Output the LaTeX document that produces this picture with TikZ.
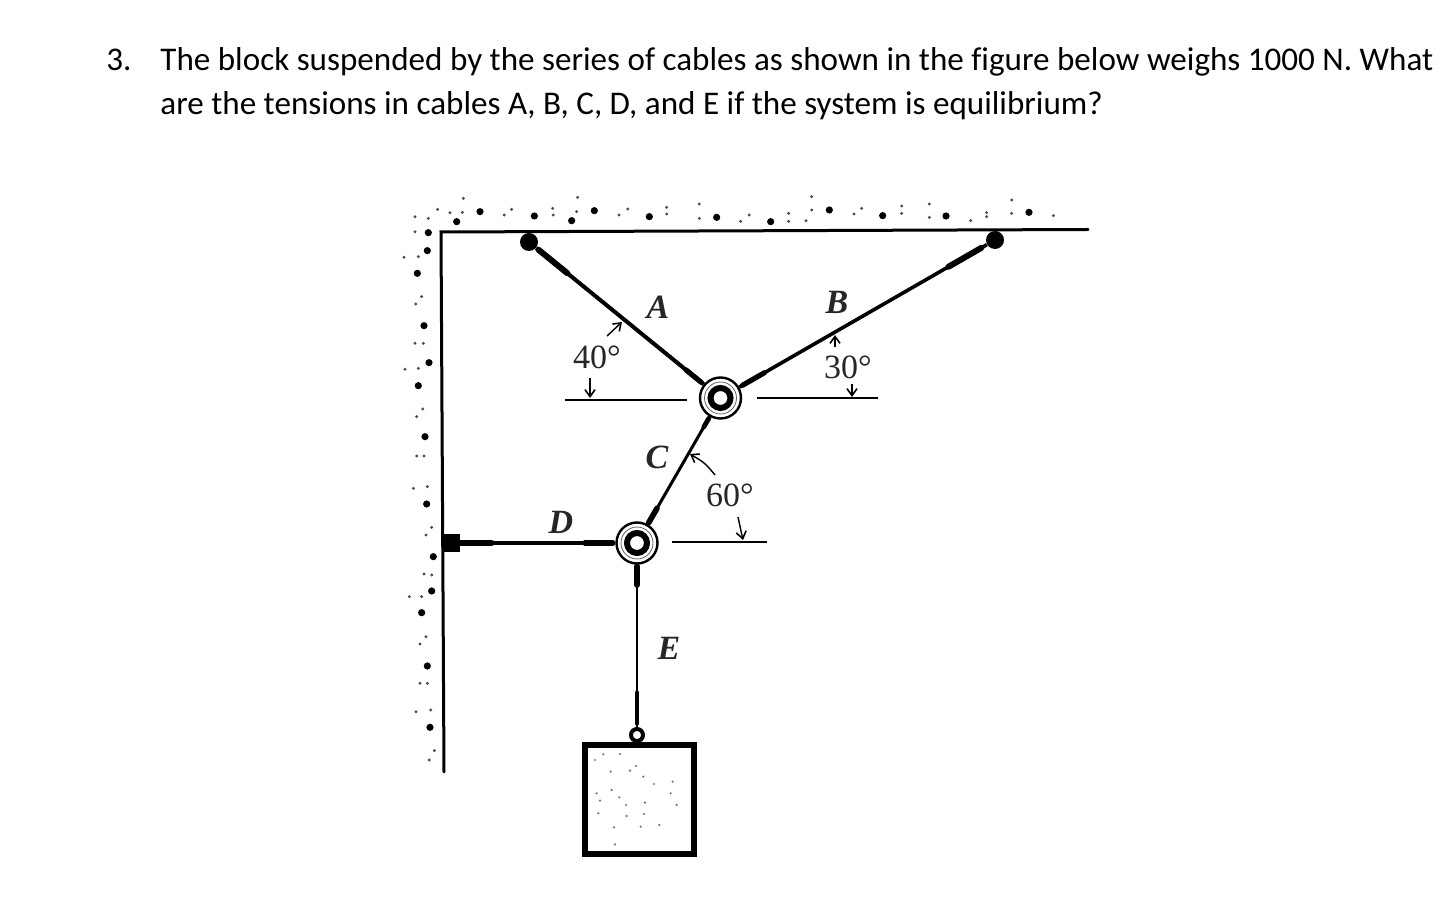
\documentclass[tikz,border=0pt]{standalone}
\usepackage{fontspec}
\setmainfont{Carlito}[Ligatures=NoCommon]
\newfontfamily\figfont{Liberation Serif}
\usetikzlibrary{calc,arrows.meta}
\tikzset{
  x=0.5pt,y=-0.5pt,
  question/.style={anchor=base west,inner sep=0pt,font=\fontsize{16.55}{18}\selectfont,text=black},
  cable/.style={line width=2pt,black},
  knot/.style={line width=3pt,black,line cap=round},
  wall/.style={line width=1.5pt,black},
  refline/.style={line width=0.9pt,black},
  pointer/.style={line width=0.7pt,black,-{Straight Barb[length=3.5pt,width=5pt,line width=0.8pt]}},
  cablelabel/.style={font=\figfont\bfseries\itshape\fontsize{17}{17}\selectfont,inner sep=0pt,text=black!85},
  anglelabel/.style={font=\figfont\fontsize{17}{17}\selectfont,inner sep=0pt,text=black!85},
  ringouter/.style={circle,draw=black,fill=white,line width=1.2pt,minimum size=20.5pt,inner sep=0pt},
  ringmid/.style={circle,draw=black!60,line width=0.4pt,minimum size=16pt,inner sep=0pt},
  ringinner/.style={circle,draw=black,line width=3pt,minimum size=10pt,inner sep=0pt},
  anchorblob/.style={circle,fill=black,inner sep=0pt,minimum size=9pt},
  blockbox/.style={draw=black,line width=3pt,fill=white,minimum size=54.5pt,inner sep=0pt},
}
\begin{document}
\begin{tikzpicture}
\useasboundingbox (0,0) rectangle (1448,898);
% question text
\node[question] (q0) at (106,71) {3.};
\node[question] (q1) at (160,71) {The block suspended by the series of cables as shown in the figure below weighs 1000 N. What};
\node[question] (q2) at (160,115) {are the tensions in cables A, B, C, D, and E if the system is equilibrium?};
% small stipple dots (top)
\foreach \a/\b in {190/55,113/88,150/98,187/97,313/105,335/88,458/85,460/105,533/52,530/95,657/105,683/87,800/82,800/102,898/72,898/115,45/110,85/115,45/155,12/232,55/230,65/350,47/372,45/490,70/490,55/565,15/568,68/687,50/710}
  \fill[black!70] ({400+\a/3},{180+\b/3}) circle[radius=0.8pt];
\foreach \a/\b in {148/105,122/124,266/100,266/124,318/122,335/50,335/90,462/102,485/85,605/78,605/100,688/72,688/112,812/122,860/98,860/110,935/60,935/100,1060/107}
  \fill[black!70] ({700+\a/3},{180+\b/3}) circle[radius=0.8pt];
\foreach \a/\b in {50/78,72/78,40/175,82/170,95/292,78/315,72/432,95/435,65/500,28/500,78/620,60/642,60/760,82/760,48/845,92/840,103/962,88/990}
  \fill[black!70] ({400+\a/3},{430+\b/3}) circle[radius=0.8pt];
% larger stipple dots
\foreach \a/\b in {240/95,170/125,403/108,583/92,748/110,515/122,85/158,82/212,52/280,72/437,87/548,55/617,75/770}
  \fill ({400+\a/3},{180+\b/3}) circle[radius=1.8pt];
\foreach \a/\b in {50/112,212/125,388/90,548/107,738/108,987/97}
  \fill ({700+\a/3},{180+\b/3}) circle[radius=1.8pt];
\foreach \a/\b in {80/222,65/548,82/708,90/892,95/483,100/380}
  \fill ({400+\a/3},{430+\b/3}) circle[radius=1.8pt];
% wall and ceiling
\coordinate (corner) at (441,232);
\coordinate (ceilend) at (1088,229.5);
\coordinate (wallend) at (444,772);
\draw[wall,line cap=round] (ceilend) -- (corner) -- (wallend);
% fixed anchors, rings, block
\node[anchorblob] (ancA) at (529,242) {};
\node[anchorblob] (ancB) at (995,240) {};
\node[anchorblob,rectangle,minimum size=9pt] (ancD) at (451,543) {};
\node[ringouter] (ringT) at (720.5,398) {};
\node[ringouter] (ringB) at (637,543) {};
\node[blockbox] (block) at (639.5,799.5) {};
\node[circle,draw=black,line width=2pt,minimum size=6pt,inner sep=0pt] (loop) at (637,735) {};
% cables
\draw[cable] (ancA) -- (ringT);
\draw[cable,line width=1.8pt] (ancB) -- (ringT);
\draw[cable,line width=1.5pt] (ringT) -- (ringB);
\draw[cable,line width=2.3pt] (ancD) -- (ringB);
\draw[cable,line width=1.3pt] (ringB) -- (loop);
\draw[cable] (loop) -- (block);
% wound cable ends
\draw[knot] ($(ancA)!.05!(ringT)$) -- ($(ancA)!.2!(ringT)$);
\draw[knot,line width=2.6pt] ($(ancA)!.82!(ringT)$) -- ($(ancA)!.9!(ringT)$);
\draw[knot] ($(ancB)!.05!(ringT)$) -- ($(ancB)!.17!(ringT)$);
\draw[knot,line width=2.6pt] ($(ancB)!.84!(ringT)$) -- ($(ancB)!.92!(ringT)$);
\draw[knot,line width=2.4pt] ($(ringT)!.14!(ringB)$) -- ($(ringT)!.2!(ringB)$);
\draw[knot,line width=2.8pt] ($(ringT)!.76!(ringB)$) -- ($(ringT)!.86!(ringB)$);
\draw[knot,line width=2.8pt] ($(ancD)!.05!(ringB)$) -- ($(ancD)!.22!(ringB)$);
\draw[knot,line width=2.6pt] ($(ancD)!.72!(ringB)$) -- ($(ancD)!.87!(ringB)$);
\draw[knot,line width=2.6pt] ($(ringB)!.12!(loop)$) -- ($(ringB)!.22!(loop)$);
\draw[knot,line width=2.4pt] ($(ringB)!.78!(loop)$) -- ($(ringB)!.94!(loop)$);
% rings
\node[ringmid] (midT) at (ringT) {};
\node[ringinner] (innerT) at (ringT) {};
\node[ringmid] (midB) at (ringB) {};
\node[ringinner] (innerB) at (ringB) {};
% block speckle
\foreach \a/\b in {632/1025,690/1022,708/1008,730/1040,762/1062,818/1055,635/1080,658/1102,735/1118,678/1125,732/1152,680/1158,595/1150,642/1192,722/1190,585/990,610/973,660/972,645/1243,830/1125,812/1090,590/1090,600/1112,778/1185}
  \fill[black!55] ({400+\a/3},{430+\b/3}) circle[radius=0.6pt];
% angle reference lines
\coordinate (r40a) at (565,400); \coordinate (r40b) at (687,400);
\coordinate (r30a) at (757,398); \coordinate (r30b) at (878,398);
\coordinate (r60a) at (672,542); \coordinate (r60b) at (767,542);
\draw[refline] (r40a) -- (r40b);
\draw[refline] (r30a) -- (r30b);
\draw[refline] (r60a) -- (r60b);
% labels
\node[cablelabel] (lA) at (658,307) {A};
\node[cablelabel] (lB) at (837,302) {B};
\node[cablelabel] (lC) at (657,457) {C};
\node[cablelabel] (lD) at (561,522) {D};
\node[cablelabel] (lE) at (669,648) {E};
\node[anglelabel] (a40) at (597,357) {40°};
\node[anglelabel] (a30) at (848,367) {30°};
\node[anglelabel] (a60) at (730,495) {60°};
% angle pointers
\coordinate (p40u) at (622,322); \coordinate (p40d) at (590,398);
\coordinate (p30u) at (835,335); \coordinate (p30d) at (852,397);
\coordinate (p60u) at (690,454); \coordinate (p60d) at (743,540);
\draw[pointer] (607,336) -- (p40u);
\draw[pointer] (590,378) -- (p40d);
\draw[pointer] (835,347) -- (p30u);
\draw[pointer] (852,384) -- (p30d);
\draw[pointer] (715,475) .. controls (705,463) .. (p60u);
\draw[pointer] (738,517) -- (p60d);
\end{tikzpicture}
\end{document}
